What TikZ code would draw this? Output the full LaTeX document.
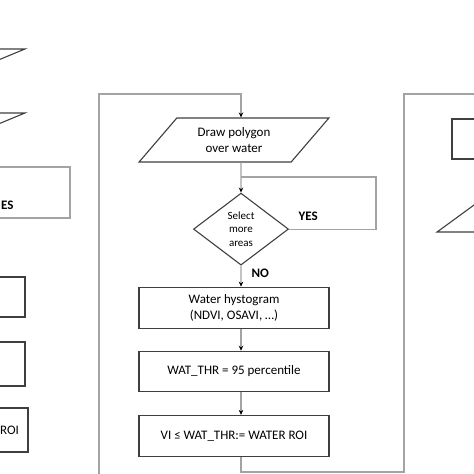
\documentclass[tikz,border=0pt]{standalone}
\usepackage{fontspec}
\setmainfont{Carlito}
\usetikzlibrary{positioning,shapes.geometric,arrows.meta}
\definecolor{boxline}{HTML}{3F3F3F}
\definecolor{flowline}{HTML}{A3A3A3}

\begin{document}
\begin{tikzpicture}[
	x = 1pt, y = -1pt, % pixel grid, y pointing down
	> = {Stealth[length=5pt,width=4.5pt,black]}, % arrow head style
	line width = 1.1pt, % line style
	font = \fontsize{13}{16}\selectfont,
	process/.style = {rectangle, draw=boxline, minimum width=190pt, minimum height=41pt, align=center, inner sep=0pt},
	io/.style = {trapezium, trapezium left angle=49, trapezium right angle=131, trapezium stretches=true,
		draw=boxline, minimum width=190pt, minimum height=44pt, align=center, inner sep=2pt},
	decision/.style = {diamond, draw=boxline, minimum width=95pt, minimum height=72pt, inner sep=0pt,
		align=center, font=\fontsize{11}{13.5}\selectfont},
	flow/.style = {draw=flowline, line width=1.2pt},
	answer/.style = {inner sep=0pt, font=\fontsize{13}{16}\selectfont\bfseries}
	]
	
	\useasboundingbox (0,0) rectangle (474,474);
	\clip (0,0) rectangle (474,474);
	
	% left chart (cut by the border)
	\node[io, minimum height=25pt] (lin1) at (-70,61.5) {};
	\node[io, minimum height=25pt] (lin2) at (-70,125.5) {};
	\node[answer, anchor=south west] (lyes) at (0.5,210.5) {ES};
	\node[process, minimum height=40pt] (lhist) at (-70,297) {};
	\node[process, minimum height=44pt] (lthr) at (-70,364) {};
	\node[process, minimum height=44pt, text width=172pt, align=right, inner xsep=9pt] (lroi) at (-67,430) {ROI};
	
	% middle chart
	\node[io] (poly) at (234,140) {Draw polygon\\over water};
	\node[decision] (more) [below=30pt of poly, xshift=7pt] {Select\\more\\areas};
	\node[process] (hist) [below=21pt of more, xshift=-7pt] {Water hystogram\\(NDVI, OSAVI, …)};
	\node[process, minimum height=40pt] (thr) [below=22pt of hist] {WAT\_THR = 95 percentile};
	\node[process] (roi) [below=23pt of thr] {VI ≤ WAT\_THR:= WATER ROI};
	\node[answer] (yes) [above right=7.5pt and 9pt of more.east] {YES};
	\node[answer] (no) [below right=3pt and 10pt of more.south] {NO};
	
	% right chart (cut by the border)
	\node[process, minimum height=40pt] (rstart) at (547,139) {};
	\node[io] (rin) at (532,210) {};
	
	% line ends and corners
	\coordinate (axis) at (241,0);
	\coordinate (lend) at (-20,218);
	\coordinate (ljoin) at (-20,167);
	\coordinate (lloop) at (70,167);
	\coordinate (lout) at (99,480);
	\coordinate (ltop) at (99,94);
	\coordinate (loop) at (376,177);
	\coordinate (rbot) at (404,472);
	\coordinate (rtop) at (404,94);
	\coordinate (rout) at (480,94);
	
	\draw[flow] (lend) -| (lloop) -- (ljoin);
	\draw[flow,->] (lout) -- (ltop) -| (axis |- poly.north);
	\draw[flow,->] (axis |- poly.south) -- (more.north);
	\draw[flow] (more.east) -| (loop) -- (axis |- loop);
	\draw[flow,->] (more.south) -- (axis |- hist.north);
	\draw[flow,->] (axis |- hist.south) -- (axis |- thr.north);
	\draw[flow,->] (axis |- thr.south) -- (axis |- roi.north);
	\draw[flow] (axis |- roi.south) |- (rbot) -- (rtop) -- (rout);
\end{tikzpicture}
\end{document}
